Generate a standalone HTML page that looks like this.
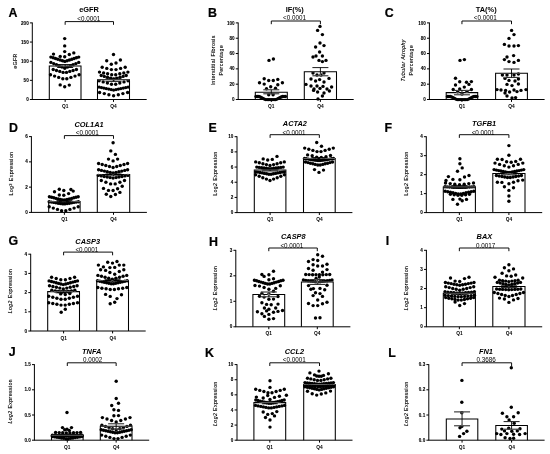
<!DOCTYPE html>
<html><head><meta charset="utf-8"><title>Figure</title>
<style>
html,body{margin:0;padding:0;background:#fff}
svg{display:block}
text{font-family:"Liberation Sans",sans-serif;fill:#000}
.pl{font-size:124px;font-weight:bold;stroke:#000;stroke-width:2px}
.ti{font-size:74px;font-weight:bold}
.it{font-style:italic}
.tk{font-size:46px;font-weight:bold;stroke:#000;stroke-width:0.8px}
.xl{font-size:48px;font-weight:bold}
.yl{font-size:52px;letter-spacing:4px;stroke:#000;stroke-width:1.2px}
.pv{font-size:63px}
.bar{fill:#fff;stroke:#000;stroke-width:1.05}
.axl{fill:none;stroke:#000;stroke-width:1}
.eb{fill:none;stroke:#000;stroke-width:0.9}
.lt{fill:none;stroke:#bbb;stroke-width:0.5}
.br{fill:none;stroke:#000;stroke-width:0.95}
</style></head><body>
<svg width="550" height="454" viewBox="0 0 550 454">
<rect width="550" height="454" fill="#fff"/>
<g id="panel-A">
<text transform="translate(8.60 16.60) scale(.1)" class="pl">A</text>
<text transform="translate(89.00 11.90) scale(.1)" class="ti" text-anchor="middle">eGFR</text>
<path d="M49.30 99.5V66.00H81.00V99.5" class="bar"/>
<path d="M97.50 99.5V79.80H129.50V99.5" class="bar"/>
<path d="M65.15 64.5V67.5M57.150000000000006 64.5H73.15M57.150000000000006 67.5H73.15" class="eb"/>
<path d="M113.5 78.2V81.4M105.5 78.2H121.5M105.5 81.4H121.5" class="eb"/>
<path d="M32.3 22.50V99.5M31.90 99.5H146.7" class="axl"/>
<path d="M29.90 99.50H32.3" class="axl"/>
<text transform="translate(28.70 101.10) scale(.1)" class="tk" text-anchor="end">0</text>
<path d="M29.90 80.35H32.3" class="axl"/>
<text transform="translate(28.70 81.95) scale(.1)" class="tk" text-anchor="end">50</text>
<path d="M29.90 61.20H32.3" class="axl"/>
<text transform="translate(28.70 62.80) scale(.1)" class="tk" text-anchor="end">100</text>
<path d="M29.90 42.05H32.3" class="axl"/>
<text transform="translate(28.70 43.65) scale(.1)" class="tk" text-anchor="end">150</text>
<path d="M29.90 22.90H32.3" class="axl"/>
<text transform="translate(28.70 24.50) scale(.1)" class="tk" text-anchor="end">200</text>
<path d="M65.15 99.5v2.4" class="axl"/>
<text transform="translate(65.15 108.10) scale(.1)" class="xl" text-anchor="middle">Q1</text>
<path d="M113.5 99.5v2.4" class="axl"/>
<text transform="translate(113.50 108.10) scale(.1)" class="xl" text-anchor="middle">Q4</text>
<text transform="translate(16.60 61.00) rotate(-90) scale(.1)" class="yl" text-anchor="middle">eGFR</text>
<path d="M65.15 24.80V21.6H113.5V24.80" class="br"/>
<text transform="translate(88.83 20.70) scale(.1)" class="pv" text-anchor="middle">&lt;0.0001</text>
<g id="dA"><circle cx="64.7" cy="38.6" r="1.7"/><circle cx="64.7" cy="45.9" r="1.7"/><circle cx="64.7" cy="51.6" r="1.7"/><circle cx="73.8" cy="52.9" r="1.7"/><circle cx="53.5" cy="54.1" r="1.7"/><circle cx="69.3" cy="54.5" r="1.7"/><circle cx="60.2" cy="56.4" r="1.7"/><circle cx="64.7" cy="56.8" r="1.7"/><circle cx="50.9" cy="57.1" r="1.7"/><circle cx="53.2" cy="57.8" r="1.7"/><circle cx="55.5" cy="58.5" r="1.7"/><circle cx="57.8" cy="59.2" r="1.7"/><circle cx="60.2" cy="60.0" r="1.7"/><circle cx="62.5" cy="60.7" r="1.7"/><circle cx="64.8" cy="61.4" r="1.7"/><circle cx="67.1" cy="60.7" r="1.7"/><circle cx="69.4" cy="60.0" r="1.7"/><circle cx="71.8" cy="59.2" r="1.7"/><circle cx="74.1" cy="58.5" r="1.7"/><circle cx="76.4" cy="57.8" r="1.7"/><circle cx="78.7" cy="57.1" r="1.7"/><circle cx="50.9" cy="62.4" r="1.7"/><circle cx="53.7" cy="63.6" r="1.7"/><circle cx="56.5" cy="64.8" r="1.7"/><circle cx="59.2" cy="65.9" r="1.7"/><circle cx="62.0" cy="67.1" r="1.7"/><circle cx="64.8" cy="68.3" r="1.7"/><circle cx="67.6" cy="67.1" r="1.7"/><circle cx="70.4" cy="65.9" r="1.7"/><circle cx="73.1" cy="64.8" r="1.7"/><circle cx="75.9" cy="63.6" r="1.7"/><circle cx="78.7" cy="62.4" r="1.7"/><circle cx="53.2" cy="69.5" r="1.7"/><circle cx="56.5" cy="70.5" r="1.7"/><circle cx="59.8" cy="71.4" r="1.7"/><circle cx="63.1" cy="72.4" r="1.7"/><circle cx="66.5" cy="72.4" r="1.7"/><circle cx="69.8" cy="71.4" r="1.7"/><circle cx="73.1" cy="70.5" r="1.7"/><circle cx="76.4" cy="69.5" r="1.7"/><circle cx="50.5" cy="74.8" r="1.7"/><circle cx="54.6" cy="76.1" r="1.7"/><circle cx="58.7" cy="77.4" r="1.7"/><circle cx="62.8" cy="78.7" r="1.7"/><circle cx="66.8" cy="78.7" r="1.7"/><circle cx="70.9" cy="77.4" r="1.7"/><circle cx="75.0" cy="76.1" r="1.7"/><circle cx="79.1" cy="74.8" r="1.7"/><circle cx="60.2" cy="84.9" r="1.7"/><circle cx="64.7" cy="86.7" r="1.7"/><circle cx="69.3" cy="85.1" r="1.7"/><circle cx="113.5" cy="54.5" r="1.7"/><circle cx="106.7" cy="60.7" r="1.7"/><circle cx="120.4" cy="60.0" r="1.7"/><circle cx="111.3" cy="64.2" r="1.7"/><circle cx="116.0" cy="63.0" r="1.7"/><circle cx="102.2" cy="67.2" r="1.7"/><circle cx="106.8" cy="68.4" r="1.7"/><circle cx="111.4" cy="69.6" r="1.7"/><circle cx="116.0" cy="69.6" r="1.7"/><circle cx="120.6" cy="68.4" r="1.7"/><circle cx="125.2" cy="67.2" r="1.7"/><circle cx="99.5" cy="72.1" r="1.7"/><circle cx="103.6" cy="73.0" r="1.7"/><circle cx="107.6" cy="73.8" r="1.7"/><circle cx="111.7" cy="74.7" r="1.7"/><circle cx="115.7" cy="74.7" r="1.7"/><circle cx="119.8" cy="73.8" r="1.7"/><circle cx="123.8" cy="73.0" r="1.7"/><circle cx="127.9" cy="72.1" r="1.7"/><circle cx="101.2" cy="75.5" r="1.7"/><circle cx="104.3" cy="76.4" r="1.7"/><circle cx="107.5" cy="77.2" r="1.7"/><circle cx="110.6" cy="78.1" r="1.7"/><circle cx="113.7" cy="79.0" r="1.7"/><circle cx="116.8" cy="78.1" r="1.7"/><circle cx="120.0" cy="77.2" r="1.7"/><circle cx="123.1" cy="76.4" r="1.7"/><circle cx="126.2" cy="75.5" r="1.7"/><circle cx="99.1" cy="80.7" r="1.7"/><circle cx="103.2" cy="81.9" r="1.7"/><circle cx="107.4" cy="83.1" r="1.7"/><circle cx="111.5" cy="84.3" r="1.7"/><circle cx="115.7" cy="84.3" r="1.7"/><circle cx="119.8" cy="83.1" r="1.7"/><circle cx="124.0" cy="81.9" r="1.7"/><circle cx="128.1" cy="80.7" r="1.7"/><circle cx="99.1" cy="87.1" r="1.7"/><circle cx="101.5" cy="87.6" r="1.7"/><circle cx="103.9" cy="88.1" r="1.7"/><circle cx="106.3" cy="88.6" r="1.7"/><circle cx="108.8" cy="89.1" r="1.7"/><circle cx="111.2" cy="89.6" r="1.7"/><circle cx="113.6" cy="90.1" r="1.7"/><circle cx="116.0" cy="89.6" r="1.7"/><circle cx="118.4" cy="89.1" r="1.7"/><circle cx="120.8" cy="88.6" r="1.7"/><circle cx="123.3" cy="88.1" r="1.7"/><circle cx="125.7" cy="87.6" r="1.7"/><circle cx="128.1" cy="87.1" r="1.7"/><circle cx="99.6" cy="92.5" r="1.7"/><circle cx="104.3" cy="93.6" r="1.7"/><circle cx="108.9" cy="94.7" r="1.7"/><circle cx="113.6" cy="95.8" r="1.7"/><circle cx="118.3" cy="94.7" r="1.7"/><circle cx="122.9" cy="93.6" r="1.7"/><circle cx="127.6" cy="92.5" r="1.7"/></g>
<mask id="mA" maskUnits="userSpaceOnUse" x="0" y="0" width="550" height="454"><use href="#dA" fill="#fff"/></mask>
<path d="M49.30 66.00H81.00M97.50 79.80H129.50" class="lt" mask="url(#mA)"/>
</g>
<g id="panel-B">
<text transform="translate(208.00 17.00) scale(.1)" class="pl">B</text>
<text transform="translate(294.70 12.30) scale(.1)" class="ti" text-anchor="middle">IF(%)</text>
<path d="M255.30 99.5V92.20H287.30V99.5" class="bar"/>
<path d="M304.30 99.5V71.70H336.50V99.5" class="bar"/>
<path d="M271.3 89.8V93.8M263.3 89.8H279.3M263.3 93.8H279.3" class="eb"/>
<path d="M320.4 67.6V75.8M312.4 67.6H328.4M312.4 75.8H328.4" class="eb"/>
<path d="M238.2 22.50V99.5M237.80 99.5H353.7" class="axl"/>
<path d="M235.80 99.50H238.2" class="axl"/>
<text transform="translate(234.60 101.10) scale(.1)" class="tk" text-anchor="end">0</text>
<path d="M235.80 84.18H238.2" class="axl"/>
<text transform="translate(234.60 85.78) scale(.1)" class="tk" text-anchor="end">20</text>
<path d="M235.80 68.86H238.2" class="axl"/>
<text transform="translate(234.60 70.46) scale(.1)" class="tk" text-anchor="end">40</text>
<path d="M235.80 53.54H238.2" class="axl"/>
<text transform="translate(234.60 55.14) scale(.1)" class="tk" text-anchor="end">60</text>
<path d="M235.80 38.22H238.2" class="axl"/>
<text transform="translate(234.60 39.82) scale(.1)" class="tk" text-anchor="end">80</text>
<path d="M235.80 22.90H238.2" class="axl"/>
<text transform="translate(234.60 24.50) scale(.1)" class="tk" text-anchor="end">100</text>
<path d="M271.3 99.5v2.4" class="axl"/>
<text transform="translate(271.30 108.10) scale(.1)" class="xl" text-anchor="middle">Q1</text>
<path d="M320.4 99.5v2.4" class="axl"/>
<text transform="translate(320.40 108.10) scale(.1)" class="xl" text-anchor="middle">Q4</text>
<text transform="translate(215.30 60.30) rotate(-90) scale(.1)" class="yl" text-anchor="middle">Interstitial Fibrosis</text>
<text transform="translate(222.80 60.30) rotate(-90) scale(.1)" class="yl" text-anchor="middle">Percentage</text>
<path d="M271.3 24.20V21H320.4V24.20" class="br"/>
<text transform="translate(294.45 20.30) scale(.1)" class="pv" text-anchor="middle">&lt;0.0001</text>
<g id="dB"><circle cx="269.0" cy="60.4" r="1.7"/><circle cx="273.4" cy="59.0" r="1.7"/><circle cx="264.2" cy="78.8" r="1.7"/><circle cx="268.7" cy="80.5" r="1.7"/><circle cx="273.3" cy="80.5" r="1.7"/><circle cx="277.8" cy="79.4" r="1.7"/><circle cx="259.5" cy="82.7" r="1.7"/><circle cx="264.2" cy="84.1" r="1.7"/><circle cx="282.4" cy="82.7" r="1.7"/><circle cx="277.8" cy="84.7" r="1.7"/><circle cx="270.7" cy="86.8" r="1.7"/><circle cx="266.5" cy="88.8" r="1.7"/><circle cx="275.5" cy="88.2" r="1.7"/><circle cx="268.7" cy="94.7" r="1.7"/><circle cx="273.1" cy="94.7" r="1.7"/><circle cx="256.0" cy="96.5" r="1.7"/><circle cx="257.4" cy="96.5" r="1.7"/><circle cx="258.8" cy="96.5" r="1.7"/><circle cx="260.2" cy="97.0" r="1.7"/><circle cx="261.6" cy="97.7" r="1.7"/><circle cx="263.0" cy="98.4" r="1.7"/><circle cx="264.4" cy="99.1" r="1.7"/><circle cx="265.8" cy="99.6" r="1.7"/><circle cx="267.2" cy="99.6" r="1.7"/><circle cx="268.6" cy="99.6" r="1.7"/><circle cx="270.0" cy="99.6" r="1.7"/><circle cx="271.4" cy="99.6" r="1.7"/><circle cx="272.8" cy="99.6" r="1.7"/><circle cx="274.2" cy="99.6" r="1.7"/><circle cx="275.6" cy="99.6" r="1.7"/><circle cx="277.0" cy="99.1" r="1.7"/><circle cx="278.4" cy="98.4" r="1.7"/><circle cx="279.8" cy="97.7" r="1.7"/><circle cx="281.2" cy="97.0" r="1.7"/><circle cx="282.6" cy="96.5" r="1.7"/><circle cx="284.0" cy="96.5" r="1.7"/><circle cx="285.4" cy="96.5" r="1.7"/><circle cx="320.0" cy="26.4" r="1.7"/><circle cx="317.6" cy="30.4" r="1.7"/><circle cx="322.4" cy="34.6" r="1.7"/><circle cx="320.0" cy="43.0" r="1.7"/><circle cx="324.0" cy="45.6" r="1.7"/><circle cx="315.6" cy="47.0" r="1.7"/><circle cx="319.6" cy="52.0" r="1.7"/><circle cx="313.0" cy="57.0" r="1.7"/><circle cx="316.0" cy="56.0" r="1.7"/><circle cx="322.4" cy="56.0" r="1.7"/><circle cx="319.0" cy="60.4" r="1.7"/><circle cx="326.0" cy="60.4" r="1.7"/><circle cx="322.4" cy="61.6" r="1.7"/><circle cx="313.0" cy="73.0" r="1.7"/><circle cx="324.0" cy="73.0" r="1.7"/><circle cx="317.0" cy="75.0" r="1.7"/><circle cx="321.0" cy="75.0" r="1.7"/><circle cx="311.0" cy="79.0" r="1.7"/><circle cx="319.6" cy="79.6" r="1.7"/><circle cx="329.0" cy="78.4" r="1.7"/><circle cx="315.6" cy="81.0" r="1.7"/><circle cx="324.0" cy="82.0" r="1.7"/><circle cx="306.0" cy="84.4" r="1.7"/><circle cx="311.0" cy="86.0" r="1.7"/><circle cx="317.0" cy="86.0" r="1.7"/><circle cx="323.0" cy="86.4" r="1.7"/><circle cx="331.6" cy="87.0" r="1.7"/><circle cx="314.0" cy="89.0" r="1.7"/><circle cx="320.0" cy="88.4" r="1.7"/><circle cx="327.0" cy="89.0" r="1.7"/><circle cx="317.6" cy="92.0" r="1.7"/><circle cx="324.0" cy="93.0" r="1.7"/><circle cx="329.4" cy="91.0" r="1.7"/><circle cx="313.6" cy="90.4" r="1.7"/><circle cx="322.4" cy="96.0" r="1.7"/><circle cx="318.0" cy="99.0" r="1.7"/></g>
<mask id="mB" maskUnits="userSpaceOnUse" x="0" y="0" width="550" height="454"><use href="#dB" fill="#fff"/></mask>
<path d="M255.30 92.20H287.30M304.30 71.70H336.50M271.3 89.8V93.8M263.3 89.8H279.3M263.3 93.8H279.3M320.4 67.6V75.8M312.4 67.6H328.4M312.4 75.8H328.4" class="lt" mask="url(#mB)"/>
</g>
<g id="panel-C">
<text transform="translate(384.80 17.10) scale(.1)" class="pl">C</text>
<text transform="translate(486.20 12.30) scale(.1)" class="ti" text-anchor="middle">TA(%)</text>
<path d="M446.20 99.5V92.60H477.70V99.5" class="bar"/>
<path d="M495.60 99.5V73.20H527.40V99.5" class="bar"/>
<path d="M461.95 90.4V94.8M453.95 90.4H469.95M453.95 94.8H469.95" class="eb"/>
<path d="M511.5 69V77.4M503.5 69H519.5M503.5 77.4H519.5" class="eb"/>
<path d="M429.4 22.50V99.5M429.00 99.5H544.6" class="axl"/>
<path d="M427.00 99.50H429.4" class="axl"/>
<text transform="translate(425.80 101.10) scale(.1)" class="tk" text-anchor="end">0</text>
<path d="M427.00 84.18H429.4" class="axl"/>
<text transform="translate(425.80 85.78) scale(.1)" class="tk" text-anchor="end">20</text>
<path d="M427.00 68.86H429.4" class="axl"/>
<text transform="translate(425.80 70.46) scale(.1)" class="tk" text-anchor="end">40</text>
<path d="M427.00 53.54H429.4" class="axl"/>
<text transform="translate(425.80 55.14) scale(.1)" class="tk" text-anchor="end">60</text>
<path d="M427.00 38.22H429.4" class="axl"/>
<text transform="translate(425.80 39.82) scale(.1)" class="tk" text-anchor="end">80</text>
<path d="M427.00 22.90H429.4" class="axl"/>
<text transform="translate(425.80 24.50) scale(.1)" class="tk" text-anchor="end">100</text>
<path d="M461.95 99.5v2.4" class="axl"/>
<text transform="translate(461.95 108.10) scale(.1)" class="xl" text-anchor="middle">Q1</text>
<path d="M511.5 99.5v2.4" class="axl"/>
<text transform="translate(511.50 108.10) scale(.1)" class="xl" text-anchor="middle">Q4</text>
<text transform="translate(405.30 60.30) rotate(-90) scale(.1)" class="yl it" text-anchor="middle">Tubular Atrophy</text>
<text transform="translate(412.80 60.30) rotate(-90) scale(.1)" class="yl" text-anchor="middle">Percentage</text>
<path d="M461.95 24.20V21H511.5V24.20" class="br"/>
<text transform="translate(485.23 20.30) scale(.1)" class="pv" text-anchor="middle">&lt;0.0001</text>
<g id="dC"><circle cx="460.0" cy="60.4" r="1.7"/><circle cx="464.4" cy="59.6" r="1.7"/><circle cx="455.5" cy="78.2" r="1.7"/><circle cx="459.7" cy="81.8" r="1.7"/><circle cx="466.5" cy="82.3" r="1.7"/><circle cx="471.4" cy="81.6" r="1.7"/><circle cx="469.0" cy="84.4" r="1.7"/><circle cx="455.5" cy="85.0" r="1.7"/><circle cx="464.3" cy="87.1" r="1.7"/><circle cx="459.7" cy="88.9" r="1.7"/><circle cx="453.2" cy="89.5" r="1.7"/><circle cx="471.4" cy="89.5" r="1.7"/><circle cx="467.0" cy="91.4" r="1.7"/><circle cx="457.7" cy="91.8" r="1.7"/><circle cx="462.0" cy="94.1" r="1.7"/><circle cx="447.5" cy="96.5" r="1.7"/><circle cx="448.9" cy="96.5" r="1.7"/><circle cx="450.3" cy="96.5" r="1.7"/><circle cx="451.7" cy="97.0" r="1.7"/><circle cx="453.1" cy="97.7" r="1.7"/><circle cx="454.5" cy="98.4" r="1.7"/><circle cx="455.9" cy="99.1" r="1.7"/><circle cx="457.3" cy="99.6" r="1.7"/><circle cx="458.7" cy="99.6" r="1.7"/><circle cx="460.1" cy="99.6" r="1.7"/><circle cx="461.5" cy="99.6" r="1.7"/><circle cx="462.9" cy="99.6" r="1.7"/><circle cx="464.3" cy="99.6" r="1.7"/><circle cx="465.7" cy="99.6" r="1.7"/><circle cx="467.1" cy="99.6" r="1.7"/><circle cx="468.5" cy="99.1" r="1.7"/><circle cx="469.9" cy="98.4" r="1.7"/><circle cx="471.3" cy="97.7" r="1.7"/><circle cx="472.7" cy="97.0" r="1.7"/><circle cx="474.1" cy="96.5" r="1.7"/><circle cx="475.5" cy="96.5" r="1.7"/><circle cx="476.9" cy="96.5" r="1.7"/><circle cx="511.6" cy="30.4" r="1.7"/><circle cx="514.0" cy="34.6" r="1.7"/><circle cx="509.0" cy="38.4" r="1.7"/><circle cx="504.4" cy="44.4" r="1.7"/><circle cx="509.0" cy="46.0" r="1.7"/><circle cx="514.0" cy="46.0" r="1.7"/><circle cx="518.4" cy="45.6" r="1.7"/><circle cx="507.0" cy="57.0" r="1.7"/><circle cx="513.6" cy="55.6" r="1.7"/><circle cx="504.4" cy="59.6" r="1.7"/><circle cx="509.0" cy="61.6" r="1.7"/><circle cx="514.0" cy="62.4" r="1.7"/><circle cx="518.4" cy="60.4" r="1.7"/><circle cx="502.4" cy="75.0" r="1.7"/><circle cx="507.0" cy="75.0" r="1.7"/><circle cx="514.0" cy="75.0" r="1.7"/><circle cx="518.4" cy="74.0" r="1.7"/><circle cx="505.0" cy="78.4" r="1.7"/><circle cx="518.4" cy="79.0" r="1.7"/><circle cx="509.0" cy="80.4" r="1.7"/><circle cx="515.0" cy="81.0" r="1.7"/><circle cx="507.0" cy="84.4" r="1.7"/><circle cx="512.0" cy="85.6" r="1.7"/><circle cx="518.4" cy="84.0" r="1.7"/><circle cx="497.0" cy="89.6" r="1.7"/><circle cx="501.0" cy="90.0" r="1.7"/><circle cx="505.6" cy="90.4" r="1.7"/><circle cx="514.0" cy="90.0" r="1.7"/><circle cx="521.0" cy="90.4" r="1.7"/><circle cx="526.0" cy="89.6" r="1.7"/><circle cx="509.6" cy="92.0" r="1.7"/><circle cx="517.0" cy="91.6" r="1.7"/><circle cx="507.0" cy="96.0" r="1.7"/><circle cx="512.0" cy="98.0" r="1.7"/><circle cx="515.6" cy="97.6" r="1.7"/><circle cx="505.0" cy="93.0" r="1.7"/></g>
<mask id="mC" maskUnits="userSpaceOnUse" x="0" y="0" width="550" height="454"><use href="#dC" fill="#fff"/></mask>
<path d="M446.20 92.60H477.70M495.60 73.20H527.40M461.95 90.4V94.8M453.95 90.4H469.95M453.95 94.8H469.95M511.5 69V77.4M503.5 69H519.5M503.5 77.4H519.5" class="lt" mask="url(#mC)"/>
</g>
<g id="panel-D">
<text transform="translate(9.00 132.10) scale(.1)" class="pl">D</text>
<text transform="translate(89.00 126.50) scale(.1)" class="ti it" text-anchor="middle">COL1A1</text>
<path d="M48.70 212.4V201.60H80.10V212.4" class="bar"/>
<path d="M97.30 212.4V174.40H129.70V212.4" class="bar"/>
<path d="M64.4 200.6V202.6M56.400000000000006 200.6H72.4M56.400000000000006 202.6H72.4" class="eb"/>
<path d="M113.5 173V175.8M105.5 173H121.5M105.5 175.8H121.5" class="eb"/>
<path d="M31.4 136.20V212.4M31.00 212.4H146.9" class="axl"/>
<path d="M29.00 212.40H31.4" class="axl"/>
<text transform="translate(27.80 214.00) scale(.1)" class="tk" text-anchor="end">0</text>
<path d="M29.00 187.13H31.4" class="axl"/>
<text transform="translate(27.80 188.73) scale(.1)" class="tk" text-anchor="end">2</text>
<path d="M29.00 161.87H31.4" class="axl"/>
<text transform="translate(27.80 163.47) scale(.1)" class="tk" text-anchor="end">4</text>
<path d="M29.00 136.60H31.4" class="axl"/>
<text transform="translate(27.80 138.20) scale(.1)" class="tk" text-anchor="end">6</text>
<path d="M64.4 212.4v2.4" class="axl"/>
<text transform="translate(64.40 221.00) scale(.1)" class="xl" text-anchor="middle">Q1</text>
<path d="M113.5 212.4v2.4" class="axl"/>
<text transform="translate(113.50 221.00) scale(.1)" class="xl" text-anchor="middle">Q4</text>
<text transform="translate(13.10 173.50) rotate(-90) scale(.1)" class="yl" text-anchor="middle">Log<tspan dy="-16" font-size="40">2</tspan><tspan dy="16"> Expression</tspan></text>
<path d="M64.4 138.80V135.6H113.5V138.80" class="br"/>
<text transform="translate(87.25 135.30) scale(.1)" class="pv" text-anchor="middle">&lt;0.0001</text>
<g id="dD"><circle cx="59.3" cy="189.3" r="1.7"/><circle cx="63.8" cy="190.5" r="1.7"/><circle cx="70.9" cy="189.5" r="1.7"/><circle cx="73.2" cy="191.1" r="1.7"/><circle cx="54.5" cy="191.8" r="1.7"/><circle cx="59.3" cy="195.0" r="1.7"/><circle cx="63.8" cy="195.3" r="1.7"/><circle cx="68.6" cy="193.6" r="1.7"/><circle cx="49.4" cy="196.8" r="1.7"/><circle cx="51.6" cy="197.3" r="1.7"/><circle cx="53.8" cy="197.8" r="1.7"/><circle cx="56.0" cy="198.4" r="1.7"/><circle cx="58.3" cy="198.9" r="1.7"/><circle cx="60.5" cy="199.4" r="1.7"/><circle cx="62.7" cy="199.9" r="1.7"/><circle cx="64.9" cy="199.9" r="1.7"/><circle cx="67.1" cy="199.4" r="1.7"/><circle cx="69.3" cy="198.9" r="1.7"/><circle cx="71.6" cy="198.4" r="1.7"/><circle cx="73.8" cy="197.8" r="1.7"/><circle cx="76.0" cy="197.3" r="1.7"/><circle cx="78.2" cy="196.8" r="1.7"/><circle cx="49.2" cy="201.7" r="1.7"/><circle cx="51.4" cy="202.1" r="1.7"/><circle cx="53.7" cy="202.4" r="1.7"/><circle cx="55.9" cy="202.8" r="1.7"/><circle cx="58.2" cy="203.2" r="1.7"/><circle cx="60.4" cy="203.5" r="1.7"/><circle cx="62.7" cy="203.9" r="1.7"/><circle cx="64.9" cy="203.9" r="1.7"/><circle cx="67.2" cy="203.5" r="1.7"/><circle cx="69.4" cy="203.2" r="1.7"/><circle cx="71.7" cy="202.8" r="1.7"/><circle cx="73.9" cy="202.4" r="1.7"/><circle cx="76.2" cy="202.1" r="1.7"/><circle cx="78.4" cy="201.7" r="1.7"/><circle cx="49.2" cy="206.8" r="1.7"/><circle cx="53.3" cy="208.1" r="1.7"/><circle cx="57.5" cy="209.4" r="1.7"/><circle cx="61.6" cy="210.7" r="1.7"/><circle cx="65.8" cy="210.7" r="1.7"/><circle cx="69.9" cy="209.4" r="1.7"/><circle cx="74.1" cy="208.1" r="1.7"/><circle cx="78.2" cy="206.8" r="1.7"/><circle cx="113.1" cy="142.7" r="1.7"/><circle cx="110.8" cy="150.9" r="1.7"/><circle cx="115.4" cy="154.4" r="1.7"/><circle cx="108.5" cy="159.1" r="1.7"/><circle cx="113.1" cy="160.9" r="1.7"/><circle cx="117.6" cy="159.1" r="1.7"/><circle cx="98.6" cy="163.5" r="1.7"/><circle cx="102.2" cy="164.5" r="1.7"/><circle cx="105.8" cy="165.5" r="1.7"/><circle cx="109.5" cy="166.5" r="1.7"/><circle cx="113.1" cy="167.5" r="1.7"/><circle cx="116.7" cy="166.5" r="1.7"/><circle cx="120.3" cy="165.5" r="1.7"/><circle cx="124.0" cy="164.5" r="1.7"/><circle cx="127.6" cy="163.5" r="1.7"/><circle cx="98.6" cy="169.8" r="1.7"/><circle cx="101.5" cy="170.4" r="1.7"/><circle cx="104.4" cy="171.1" r="1.7"/><circle cx="107.3" cy="171.7" r="1.7"/><circle cx="110.2" cy="172.4" r="1.7"/><circle cx="113.1" cy="173.0" r="1.7"/><circle cx="116.0" cy="172.4" r="1.7"/><circle cx="118.9" cy="171.7" r="1.7"/><circle cx="121.8" cy="171.1" r="1.7"/><circle cx="124.7" cy="170.4" r="1.7"/><circle cx="127.6" cy="169.8" r="1.7"/><circle cx="98.3" cy="175.4" r="1.7"/><circle cx="101.3" cy="175.9" r="1.7"/><circle cx="104.2" cy="176.5" r="1.7"/><circle cx="107.2" cy="177.0" r="1.7"/><circle cx="110.1" cy="177.6" r="1.7"/><circle cx="113.1" cy="178.1" r="1.7"/><circle cx="116.1" cy="177.6" r="1.7"/><circle cx="119.0" cy="177.0" r="1.7"/><circle cx="122.0" cy="176.5" r="1.7"/><circle cx="124.9" cy="175.9" r="1.7"/><circle cx="127.9" cy="175.4" r="1.7"/><circle cx="101.3" cy="180.5" r="1.7"/><circle cx="105.9" cy="182.2" r="1.7"/><circle cx="110.6" cy="183.9" r="1.7"/><circle cx="115.2" cy="183.9" r="1.7"/><circle cx="119.9" cy="182.2" r="1.7"/><circle cx="124.5" cy="180.5" r="1.7"/><circle cx="103.5" cy="188.4" r="1.7"/><circle cx="108.5" cy="190.4" r="1.7"/><circle cx="113.1" cy="190.5" r="1.7"/><circle cx="117.6" cy="188.7" r="1.7"/><circle cx="122.2" cy="186.3" r="1.7"/><circle cx="106.3" cy="194.2" r="1.7"/><circle cx="110.8" cy="196.5" r="1.7"/><circle cx="115.4" cy="194.5" r="1.7"/><circle cx="119.9" cy="192.4" r="1.7"/></g>
<mask id="mD" maskUnits="userSpaceOnUse" x="0" y="0" width="550" height="454"><use href="#dD" fill="#fff"/></mask>
<path d="M48.70 201.60H80.10M97.30 174.40H129.70" class="lt" mask="url(#mD)"/>
</g>
<g id="panel-E">
<text transform="translate(208.60 132.10) scale(.1)" class="pl">E</text>
<text transform="translate(294.90 125.60) scale(.1)" class="ti it" text-anchor="middle">ACTA2</text>
<path d="M254.30 212.6V170.00H285.90V212.6" class="bar"/>
<path d="M303.50 212.6V158.50H335.20V212.6" class="bar"/>
<path d="M270.1 169V171M262.1 169H278.1M262.1 171H278.1" class="eb"/>
<path d="M319.35 157.5V159.5M311.35 157.5H327.35M311.35 159.5H327.35" class="eb"/>
<path d="M237 136.30V212.6M236.60 212.6H352.4" class="axl"/>
<path d="M234.60 212.60H237" class="axl"/>
<text transform="translate(233.40 214.20) scale(.1)" class="tk" text-anchor="end">0</text>
<path d="M234.60 197.42H237" class="axl"/>
<text transform="translate(233.40 199.02) scale(.1)" class="tk" text-anchor="end">2</text>
<path d="M234.60 182.24H237" class="axl"/>
<text transform="translate(233.40 183.84) scale(.1)" class="tk" text-anchor="end">4</text>
<path d="M234.60 167.06H237" class="axl"/>
<text transform="translate(233.40 168.66) scale(.1)" class="tk" text-anchor="end">6</text>
<path d="M234.60 151.88H237" class="axl"/>
<text transform="translate(233.40 153.48) scale(.1)" class="tk" text-anchor="end">8</text>
<path d="M234.60 136.70H237" class="axl"/>
<text transform="translate(233.40 138.30) scale(.1)" class="tk" text-anchor="end">10</text>
<path d="M270.1 212.6v2.4" class="axl"/>
<text transform="translate(270.10 221.20) scale(.1)" class="xl" text-anchor="middle">Q1</text>
<path d="M319.35 212.6v2.4" class="axl"/>
<text transform="translate(319.35 221.20) scale(.1)" class="xl" text-anchor="middle">Q4</text>
<text transform="translate(216.60 173.50) rotate(-90) scale(.1)" class="yl" text-anchor="middle">Log<tspan font-style="italic">2</tspan> Expression</text>
<path d="M270.1 137.90V134.7H319.35V137.90" class="br"/>
<text transform="translate(293.93 134.70) scale(.1)" class="pv" text-anchor="middle">&lt;0.0001</text>
<g id="dE"><circle cx="277.0" cy="156.4" r="1.7"/><circle cx="263.2" cy="158.9" r="1.7"/><circle cx="267.7" cy="160.0" r="1.7"/><circle cx="272.3" cy="159.4" r="1.7"/><circle cx="255.7" cy="161.9" r="1.7"/><circle cx="259.3" cy="162.8" r="1.7"/><circle cx="262.9" cy="163.7" r="1.7"/><circle cx="266.4" cy="164.6" r="1.7"/><circle cx="270.0" cy="165.5" r="1.7"/><circle cx="273.6" cy="164.6" r="1.7"/><circle cx="277.1" cy="163.7" r="1.7"/><circle cx="280.7" cy="162.8" r="1.7"/><circle cx="284.3" cy="161.9" r="1.7"/><circle cx="256.8" cy="167.1" r="1.7"/><circle cx="259.2" cy="167.4" r="1.7"/><circle cx="261.6" cy="167.7" r="1.7"/><circle cx="264.0" cy="168.0" r="1.7"/><circle cx="266.4" cy="168.3" r="1.7"/><circle cx="268.8" cy="168.6" r="1.7"/><circle cx="271.2" cy="168.6" r="1.7"/><circle cx="273.6" cy="168.3" r="1.7"/><circle cx="276.0" cy="168.0" r="1.7"/><circle cx="278.4" cy="167.7" r="1.7"/><circle cx="280.8" cy="167.4" r="1.7"/><circle cx="283.2" cy="167.1" r="1.7"/><circle cx="255.7" cy="171.7" r="1.7"/><circle cx="257.9" cy="172.1" r="1.7"/><circle cx="260.1" cy="172.5" r="1.7"/><circle cx="262.3" cy="172.9" r="1.7"/><circle cx="264.5" cy="173.4" r="1.7"/><circle cx="266.7" cy="173.8" r="1.7"/><circle cx="268.9" cy="174.2" r="1.7"/><circle cx="271.1" cy="174.2" r="1.7"/><circle cx="273.3" cy="173.8" r="1.7"/><circle cx="275.5" cy="173.4" r="1.7"/><circle cx="277.7" cy="172.9" r="1.7"/><circle cx="279.9" cy="172.5" r="1.7"/><circle cx="282.1" cy="172.1" r="1.7"/><circle cx="284.3" cy="171.7" r="1.7"/><circle cx="255.6" cy="174.8" r="1.7"/><circle cx="259.2" cy="176.2" r="1.7"/><circle cx="262.8" cy="177.7" r="1.7"/><circle cx="266.4" cy="179.1" r="1.7"/><circle cx="270.0" cy="180.5" r="1.7"/><circle cx="273.6" cy="179.1" r="1.7"/><circle cx="277.2" cy="177.7" r="1.7"/><circle cx="280.8" cy="176.2" r="1.7"/><circle cx="284.4" cy="174.8" r="1.7"/><circle cx="316.7" cy="142.5" r="1.7"/><circle cx="321.5" cy="146.2" r="1.7"/><circle cx="304.7" cy="148.1" r="1.7"/><circle cx="308.8" cy="149.3" r="1.7"/><circle cx="312.9" cy="150.4" r="1.7"/><circle cx="317.0" cy="151.6" r="1.7"/><circle cx="321.0" cy="151.6" r="1.7"/><circle cx="325.1" cy="150.4" r="1.7"/><circle cx="329.2" cy="149.3" r="1.7"/><circle cx="333.3" cy="148.1" r="1.7"/><circle cx="307.6" cy="154.9" r="1.7"/><circle cx="312.2" cy="155.8" r="1.7"/><circle cx="316.7" cy="157.1" r="1.7"/><circle cx="321.3" cy="157.4" r="1.7"/><circle cx="326.0" cy="156.7" r="1.7"/><circle cx="330.5" cy="155.5" r="1.7"/><circle cx="304.5" cy="158.5" r="1.7"/><circle cx="306.4" cy="158.8" r="1.7"/><circle cx="308.4" cy="159.1" r="1.7"/><circle cx="310.3" cy="159.4" r="1.7"/><circle cx="312.2" cy="159.7" r="1.7"/><circle cx="314.2" cy="160.0" r="1.7"/><circle cx="316.1" cy="160.3" r="1.7"/><circle cx="318.0" cy="160.6" r="1.7"/><circle cx="320.0" cy="160.6" r="1.7"/><circle cx="321.9" cy="160.3" r="1.7"/><circle cx="323.8" cy="160.0" r="1.7"/><circle cx="325.8" cy="159.7" r="1.7"/><circle cx="327.7" cy="159.4" r="1.7"/><circle cx="329.6" cy="159.1" r="1.7"/><circle cx="331.6" cy="158.8" r="1.7"/><circle cx="333.5" cy="158.5" r="1.7"/><circle cx="305.5" cy="162.0" r="1.7"/><circle cx="308.0" cy="162.6" r="1.7"/><circle cx="310.4" cy="163.2" r="1.7"/><circle cx="312.9" cy="163.8" r="1.7"/><circle cx="315.3" cy="164.4" r="1.7"/><circle cx="317.8" cy="165.0" r="1.7"/><circle cx="320.2" cy="165.0" r="1.7"/><circle cx="322.7" cy="164.4" r="1.7"/><circle cx="325.1" cy="163.8" r="1.7"/><circle cx="327.6" cy="163.2" r="1.7"/><circle cx="330.0" cy="162.6" r="1.7"/><circle cx="332.5" cy="162.0" r="1.7"/><circle cx="314.5" cy="169.6" r="1.7"/><circle cx="319.0" cy="172.4" r="1.7"/><circle cx="323.5" cy="170.1" r="1.7"/></g>
<mask id="mE" maskUnits="userSpaceOnUse" x="0" y="0" width="550" height="454"><use href="#dE" fill="#fff"/></mask>
<path d="M254.30 170.00H285.90M303.50 158.50H335.20" class="lt" mask="url(#mE)"/>
</g>
<g id="panel-F">
<text transform="translate(384.50 132.40) scale(.1)" class="pl">F</text>
<text transform="translate(484.10 125.60) scale(.1)" class="ti it" text-anchor="middle">TGFB1</text>
<path d="M443.30 212.6V186.90H475.40V212.6" class="bar"/>
<path d="M492.80 212.6V173.50H525.00V212.6" class="bar"/>
<path d="M459.35 185.6V188.2M451.35 185.6H467.35M451.35 188.2H467.35" class="eb"/>
<path d="M508.9 172.2V174.8M500.9 172.2H516.9M500.9 174.8H516.9" class="eb"/>
<path d="M426.3 136.30V212.6M425.90 212.6H542.2" class="axl"/>
<path d="M423.90 212.60H426.3" class="axl"/>
<text transform="translate(422.70 214.20) scale(.1)" class="tk" text-anchor="end">0</text>
<path d="M423.90 193.62H426.3" class="axl"/>
<text transform="translate(422.70 195.22) scale(.1)" class="tk" text-anchor="end">1</text>
<path d="M423.90 174.65H426.3" class="axl"/>
<text transform="translate(422.70 176.25) scale(.1)" class="tk" text-anchor="end">2</text>
<path d="M423.90 155.67H426.3" class="axl"/>
<text transform="translate(422.70 157.27) scale(.1)" class="tk" text-anchor="end">3</text>
<path d="M423.90 136.70H426.3" class="axl"/>
<text transform="translate(422.70 138.30) scale(.1)" class="tk" text-anchor="end">4</text>
<path d="M459.35 212.6v2.4" class="axl"/>
<text transform="translate(459.35 221.20) scale(.1)" class="xl" text-anchor="middle">Q1</text>
<path d="M508.9 212.6v2.4" class="axl"/>
<text transform="translate(508.90 221.20) scale(.1)" class="xl" text-anchor="middle">Q4</text>
<text transform="translate(407.80 173.50) rotate(-90) scale(.1)" class="yl" text-anchor="middle">Log<tspan font-style="italic">2</tspan> Expression</text>
<path d="M459.35 137.90V134.7H508.9V137.90" class="br"/>
<text transform="translate(483.12 134.80) scale(.1)" class="pv" text-anchor="middle">&lt;0.0001</text>
<g id="dF"><circle cx="459.9" cy="158.8" r="1.7"/><circle cx="459.9" cy="163.8" r="1.7"/><circle cx="462.2" cy="167.9" r="1.7"/><circle cx="457.5" cy="171.2" r="1.7"/><circle cx="469.0" cy="175.5" r="1.7"/><circle cx="464.5" cy="177.0" r="1.7"/><circle cx="448.4" cy="176.6" r="1.7"/><circle cx="446.0" cy="180.5" r="1.7"/><circle cx="452.9" cy="179.4" r="1.7"/><circle cx="459.9" cy="179.7" r="1.7"/><circle cx="445.5" cy="183.0" r="1.7"/><circle cx="450.2" cy="183.6" r="1.7"/><circle cx="454.8" cy="184.2" r="1.7"/><circle cx="459.5" cy="184.8" r="1.7"/><circle cx="464.2" cy="184.2" r="1.7"/><circle cx="468.8" cy="183.6" r="1.7"/><circle cx="473.5" cy="183.0" r="1.7"/><circle cx="445.0" cy="186.8" r="1.7"/><circle cx="447.2" cy="186.9" r="1.7"/><circle cx="449.5" cy="187.0" r="1.7"/><circle cx="451.7" cy="187.1" r="1.7"/><circle cx="453.9" cy="187.2" r="1.7"/><circle cx="456.2" cy="187.3" r="1.7"/><circle cx="458.4" cy="187.4" r="1.7"/><circle cx="460.6" cy="187.4" r="1.7"/><circle cx="462.8" cy="187.3" r="1.7"/><circle cx="465.1" cy="187.2" r="1.7"/><circle cx="467.3" cy="187.1" r="1.7"/><circle cx="469.5" cy="187.0" r="1.7"/><circle cx="471.8" cy="186.9" r="1.7"/><circle cx="474.0" cy="186.8" r="1.7"/><circle cx="445.2" cy="191.2" r="1.7"/><circle cx="447.8" cy="191.7" r="1.7"/><circle cx="450.4" cy="192.3" r="1.7"/><circle cx="453.0" cy="192.8" r="1.7"/><circle cx="455.6" cy="193.4" r="1.7"/><circle cx="458.2" cy="193.9" r="1.7"/><circle cx="460.8" cy="193.9" r="1.7"/><circle cx="463.4" cy="193.4" r="1.7"/><circle cx="466.0" cy="192.8" r="1.7"/><circle cx="468.6" cy="192.3" r="1.7"/><circle cx="471.2" cy="191.7" r="1.7"/><circle cx="473.8" cy="191.2" r="1.7"/><circle cx="450.4" cy="194.2" r="1.7"/><circle cx="454.2" cy="194.8" r="1.7"/><circle cx="458.0" cy="195.3" r="1.7"/><circle cx="461.8" cy="195.3" r="1.7"/><circle cx="465.6" cy="194.8" r="1.7"/><circle cx="469.4" cy="194.2" r="1.7"/><circle cx="452.9" cy="199.4" r="1.7"/><circle cx="459.9" cy="199.1" r="1.7"/><circle cx="462.2" cy="200.7" r="1.7"/><circle cx="466.5" cy="199.4" r="1.7"/><circle cx="457.5" cy="204.2" r="1.7"/><circle cx="508.9" cy="145.6" r="1.7"/><circle cx="508.9" cy="155.3" r="1.7"/><circle cx="497.4" cy="159.3" r="1.7"/><circle cx="502.1" cy="159.5" r="1.7"/><circle cx="520.5" cy="159.3" r="1.7"/><circle cx="506.6" cy="161.8" r="1.7"/><circle cx="511.2" cy="162.3" r="1.7"/><circle cx="515.7" cy="161.4" r="1.7"/><circle cx="495.0" cy="163.1" r="1.7"/><circle cx="499.6" cy="164.4" r="1.7"/><circle cx="504.3" cy="165.8" r="1.7"/><circle cx="508.9" cy="167.1" r="1.7"/><circle cx="513.5" cy="165.8" r="1.7"/><circle cx="518.2" cy="164.4" r="1.7"/><circle cx="522.8" cy="163.1" r="1.7"/><circle cx="494.1" cy="169.6" r="1.7"/><circle cx="496.4" cy="170.1" r="1.7"/><circle cx="498.7" cy="170.6" r="1.7"/><circle cx="500.9" cy="171.0" r="1.7"/><circle cx="503.2" cy="171.5" r="1.7"/><circle cx="505.5" cy="172.0" r="1.7"/><circle cx="507.8" cy="172.5" r="1.7"/><circle cx="510.0" cy="172.5" r="1.7"/><circle cx="512.3" cy="172.0" r="1.7"/><circle cx="514.6" cy="171.5" r="1.7"/><circle cx="516.9" cy="171.0" r="1.7"/><circle cx="519.1" cy="170.6" r="1.7"/><circle cx="521.4" cy="170.1" r="1.7"/><circle cx="523.7" cy="169.6" r="1.7"/><circle cx="496.4" cy="175.5" r="1.7"/><circle cx="499.2" cy="176.0" r="1.7"/><circle cx="502.0" cy="176.5" r="1.7"/><circle cx="504.7" cy="177.0" r="1.7"/><circle cx="507.5" cy="177.5" r="1.7"/><circle cx="510.3" cy="177.5" r="1.7"/><circle cx="513.1" cy="177.0" r="1.7"/><circle cx="515.8" cy="176.5" r="1.7"/><circle cx="518.6" cy="176.0" r="1.7"/><circle cx="521.4" cy="175.5" r="1.7"/><circle cx="497.4" cy="182.2" r="1.7"/><circle cx="501.9" cy="182.4" r="1.7"/><circle cx="508.9" cy="183.7" r="1.7"/><circle cx="513.5" cy="182.2" r="1.7"/><circle cx="518.0" cy="180.7" r="1.7"/><circle cx="522.7" cy="180.1" r="1.7"/><circle cx="504.4" cy="186.7" r="1.7"/><circle cx="513.5" cy="187.8" r="1.7"/><circle cx="508.9" cy="190.4" r="1.7"/><circle cx="508.9" cy="196.0" r="1.7"/><circle cx="508.9" cy="201.3" r="1.7"/></g>
<mask id="mF" maskUnits="userSpaceOnUse" x="0" y="0" width="550" height="454"><use href="#dF" fill="#fff"/></mask>
<path d="M443.30 186.90H475.40M492.80 173.50H525.00" class="lt" mask="url(#mF)"/>
</g>
<g id="panel-G">
<text transform="translate(8.60 245.40) scale(.1)" class="pl">G</text>
<text transform="translate(87.70 244.00) scale(.1)" class="ti it" text-anchor="middle">CASP3</text>
<path d="M47.70 331V291.60H79.50V331" class="bar"/>
<path d="M96.70 331V280.50H128.50V331" class="bar"/>
<path d="M63.6 290.4V292.8M55.6 290.4H71.6M55.6 292.8H71.6" class="eb"/>
<path d="M112.6 279.3V281.7M104.6 279.3H120.6M104.6 281.7H120.6" class="eb"/>
<path d="M30.7 253.80V331M30.30 331H145.7" class="axl"/>
<path d="M28.30 331.00H30.7" class="axl"/>
<text transform="translate(27.10 332.60) scale(.1)" class="tk" text-anchor="end">0</text>
<path d="M28.30 311.80H30.7" class="axl"/>
<text transform="translate(27.10 313.40) scale(.1)" class="tk" text-anchor="end">1</text>
<path d="M28.30 292.60H30.7" class="axl"/>
<text transform="translate(27.10 294.20) scale(.1)" class="tk" text-anchor="end">2</text>
<path d="M28.30 273.40H30.7" class="axl"/>
<text transform="translate(27.10 275.00) scale(.1)" class="tk" text-anchor="end">3</text>
<path d="M28.30 254.20H30.7" class="axl"/>
<text transform="translate(27.10 255.80) scale(.1)" class="tk" text-anchor="end">4</text>
<path d="M63.6 331v2.4" class="axl"/>
<text transform="translate(63.60 339.60) scale(.1)" class="xl" text-anchor="middle">Q1</text>
<path d="M112.6 331v2.4" class="axl"/>
<text transform="translate(112.60 339.60) scale(.1)" class="xl" text-anchor="middle">Q4</text>
<text transform="translate(12.40 291.00) rotate(-90) scale(.1)" class="yl" text-anchor="middle"><tspan font-style="italic">Log2</tspan> Expression</text>
<path d="M63.6 255.30V252.1H112.6V255.30" class="br"/>
<text transform="translate(86.90 251.50) scale(.1)" class="pv" text-anchor="middle">&lt;0.0001</text>
<g id="dG"><circle cx="51.6" cy="277.2" r="1.7"/><circle cx="56.2" cy="278.5" r="1.7"/><circle cx="60.8" cy="279.8" r="1.7"/><circle cx="65.4" cy="279.8" r="1.7"/><circle cx="70.0" cy="278.5" r="1.7"/><circle cx="74.6" cy="277.2" r="1.7"/><circle cx="49.1" cy="280.9" r="1.7"/><circle cx="51.5" cy="281.5" r="1.7"/><circle cx="53.8" cy="282.1" r="1.7"/><circle cx="56.2" cy="282.8" r="1.7"/><circle cx="58.6" cy="283.4" r="1.7"/><circle cx="60.9" cy="284.0" r="1.7"/><circle cx="63.3" cy="284.6" r="1.7"/><circle cx="65.7" cy="284.0" r="1.7"/><circle cx="68.0" cy="283.4" r="1.7"/><circle cx="70.4" cy="282.8" r="1.7"/><circle cx="72.8" cy="282.1" r="1.7"/><circle cx="75.1" cy="281.5" r="1.7"/><circle cx="77.5" cy="280.9" r="1.7"/><circle cx="49.5" cy="285.7" r="1.7"/><circle cx="52.9" cy="286.5" r="1.7"/><circle cx="56.4" cy="287.3" r="1.7"/><circle cx="59.8" cy="288.1" r="1.7"/><circle cx="63.3" cy="288.9" r="1.7"/><circle cx="66.8" cy="288.1" r="1.7"/><circle cx="70.2" cy="287.3" r="1.7"/><circle cx="73.7" cy="286.5" r="1.7"/><circle cx="77.1" cy="285.7" r="1.7"/><circle cx="51.8" cy="290.3" r="1.7"/><circle cx="55.1" cy="290.9" r="1.7"/><circle cx="58.4" cy="291.6" r="1.7"/><circle cx="61.7" cy="292.2" r="1.7"/><circle cx="64.9" cy="292.2" r="1.7"/><circle cx="68.2" cy="291.6" r="1.7"/><circle cx="71.5" cy="290.9" r="1.7"/><circle cx="74.8" cy="290.3" r="1.7"/><circle cx="60.7" cy="293.9" r="1.7"/><circle cx="65.3" cy="294.6" r="1.7"/><circle cx="69.8" cy="293.5" r="1.7"/><circle cx="48.7" cy="296.3" r="1.7"/><circle cx="52.8" cy="297.3" r="1.7"/><circle cx="56.9" cy="298.3" r="1.7"/><circle cx="61.0" cy="299.3" r="1.7"/><circle cx="65.2" cy="299.3" r="1.7"/><circle cx="69.3" cy="298.3" r="1.7"/><circle cx="73.4" cy="297.3" r="1.7"/><circle cx="77.5" cy="296.3" r="1.7"/><circle cx="48.7" cy="302.7" r="1.7"/><circle cx="52.8" cy="303.5" r="1.7"/><circle cx="56.9" cy="304.3" r="1.7"/><circle cx="61.0" cy="305.1" r="1.7"/><circle cx="65.2" cy="305.1" r="1.7"/><circle cx="69.3" cy="304.3" r="1.7"/><circle cx="73.4" cy="303.5" r="1.7"/><circle cx="77.5" cy="302.7" r="1.7"/><circle cx="65.3" cy="309.2" r="1.7"/><circle cx="61.2" cy="312.3" r="1.7"/><circle cx="107.7" cy="262.2" r="1.7"/><circle cx="112.5" cy="263.1" r="1.7"/><circle cx="117.0" cy="261.5" r="1.7"/><circle cx="98.4" cy="265.1" r="1.7"/><circle cx="103.4" cy="266.9" r="1.7"/><circle cx="119.3" cy="265.1" r="1.7"/><circle cx="123.8" cy="265.1" r="1.7"/><circle cx="109.9" cy="267.6" r="1.7"/><circle cx="114.7" cy="267.4" r="1.7"/><circle cx="100.6" cy="269.8" r="1.7"/><circle cx="105.6" cy="270.4" r="1.7"/><circle cx="123.8" cy="269.8" r="1.7"/><circle cx="119.3" cy="271.5" r="1.7"/><circle cx="109.9" cy="272.5" r="1.7"/><circle cx="114.7" cy="274.2" r="1.7"/><circle cx="97.9" cy="275.4" r="1.7"/><circle cx="101.5" cy="276.3" r="1.7"/><circle cx="105.1" cy="277.3" r="1.7"/><circle cx="108.7" cy="278.2" r="1.7"/><circle cx="112.3" cy="279.2" r="1.7"/><circle cx="115.9" cy="278.2" r="1.7"/><circle cx="119.5" cy="277.3" r="1.7"/><circle cx="123.1" cy="276.3" r="1.7"/><circle cx="126.7" cy="275.4" r="1.7"/><circle cx="97.5" cy="280.7" r="1.7"/><circle cx="99.8" cy="281.2" r="1.7"/><circle cx="102.1" cy="281.7" r="1.7"/><circle cx="104.3" cy="282.2" r="1.7"/><circle cx="106.6" cy="282.7" r="1.7"/><circle cx="108.9" cy="283.2" r="1.7"/><circle cx="111.2" cy="283.7" r="1.7"/><circle cx="113.4" cy="283.7" r="1.7"/><circle cx="115.7" cy="283.2" r="1.7"/><circle cx="118.0" cy="282.7" r="1.7"/><circle cx="120.3" cy="282.2" r="1.7"/><circle cx="122.5" cy="281.7" r="1.7"/><circle cx="124.8" cy="281.2" r="1.7"/><circle cx="127.1" cy="280.7" r="1.7"/><circle cx="97.8" cy="287.5" r="1.7"/><circle cx="101.9" cy="288.2" r="1.7"/><circle cx="106.1" cy="288.8" r="1.7"/><circle cx="110.2" cy="289.5" r="1.7"/><circle cx="114.4" cy="289.5" r="1.7"/><circle cx="118.5" cy="288.8" r="1.7"/><circle cx="122.7" cy="288.2" r="1.7"/><circle cx="126.8" cy="287.5" r="1.7"/><circle cx="105.6" cy="294.4" r="1.7"/><circle cx="110.2" cy="296.4" r="1.7"/><circle cx="121.5" cy="294.7" r="1.7"/><circle cx="117.0" cy="298.6" r="1.7"/><circle cx="110.2" cy="303.8" r="1.7"/><circle cx="114.7" cy="302.3" r="1.7"/></g>
<mask id="mG" maskUnits="userSpaceOnUse" x="0" y="0" width="550" height="454"><use href="#dG" fill="#fff"/></mask>
<path d="M47.70 291.60H79.50M96.70 280.50H128.50" class="lt" mask="url(#mG)"/>
</g>
<g id="panel-H">
<text transform="translate(208.90 245.50) scale(.1)" class="pl">H</text>
<text transform="translate(293.30 239.40) scale(.1)" class="ti it" text-anchor="middle">CASP8</text>
<path d="M252.90 326.8V294.40H284.70V326.8" class="bar"/>
<path d="M301.40 326.8V282.00H333.20V326.8" class="bar"/>
<path d="M268.8 292V296.8M260.8 292H276.8M260.8 296.8H276.8" class="eb"/>
<path d="M317.3 279.6V284.4M309.3 279.6H325.3M309.3 284.4H325.3" class="eb"/>
<path d="M235.8 249.90V326.8M235.40 326.8H350.4" class="axl"/>
<path d="M233.40 326.80H235.8" class="axl"/>
<text transform="translate(232.20 328.40) scale(.1)" class="tk" text-anchor="end">0</text>
<path d="M233.40 301.30H235.8" class="axl"/>
<text transform="translate(232.20 302.90) scale(.1)" class="tk" text-anchor="end">1</text>
<path d="M233.40 275.80H235.8" class="axl"/>
<text transform="translate(232.20 277.40) scale(.1)" class="tk" text-anchor="end">2</text>
<path d="M233.40 250.30H235.8" class="axl"/>
<text transform="translate(232.20 251.90) scale(.1)" class="tk" text-anchor="end">3</text>
<path d="M268.8 326.8v2.4" class="axl"/>
<text transform="translate(268.80 335.40) scale(.1)" class="xl" text-anchor="middle">Q1</text>
<path d="M317.3 326.8v2.4" class="axl"/>
<text transform="translate(317.30 335.40) scale(.1)" class="xl" text-anchor="middle">Q4</text>
<text transform="translate(216.60 288.00) rotate(-90) scale(.1)" class="yl" text-anchor="middle"><tspan font-style="italic">Log2</tspan> Expression</text>
<path d="M268.8 251.20V248H317.3V251.20" class="br"/>
<text transform="translate(291.85 247.80) scale(.1)" class="pv" text-anchor="middle">&lt;0.0001</text>
<g id="dH"><circle cx="273.5" cy="271.3" r="1.7"/><circle cx="261.9" cy="274.5" r="1.7"/><circle cx="264.1" cy="276.4" r="1.7"/><circle cx="268.9" cy="274.7" r="1.7"/><circle cx="268.9" cy="279.7" r="1.7"/><circle cx="273.5" cy="278.8" r="1.7"/><circle cx="254.4" cy="280.2" r="1.7"/><circle cx="256.6" cy="280.8" r="1.7"/><circle cx="258.8" cy="281.5" r="1.7"/><circle cx="261.0" cy="282.1" r="1.7"/><circle cx="263.2" cy="282.7" r="1.7"/><circle cx="265.4" cy="283.4" r="1.7"/><circle cx="267.6" cy="284.0" r="1.7"/><circle cx="269.8" cy="284.0" r="1.7"/><circle cx="272.0" cy="283.4" r="1.7"/><circle cx="274.2" cy="282.7" r="1.7"/><circle cx="276.4" cy="282.1" r="1.7"/><circle cx="278.6" cy="281.5" r="1.7"/><circle cx="280.8" cy="280.8" r="1.7"/><circle cx="283.0" cy="280.2" r="1.7"/><circle cx="255.0" cy="285.5" r="1.7"/><circle cx="259.5" cy="286.1" r="1.7"/><circle cx="264.1" cy="287.5" r="1.7"/><circle cx="280.3" cy="285.8" r="1.7"/><circle cx="268.9" cy="289.3" r="1.7"/><circle cx="275.7" cy="288.4" r="1.7"/><circle cx="273.5" cy="291.3" r="1.7"/><circle cx="261.9" cy="293.4" r="1.7"/><circle cx="268.9" cy="294.0" r="1.7"/><circle cx="259.5" cy="296.2" r="1.7"/><circle cx="264.1" cy="297.1" r="1.7"/><circle cx="278.0" cy="296.5" r="1.7"/><circle cx="268.9" cy="299.3" r="1.7"/><circle cx="273.5" cy="299.1" r="1.7"/><circle cx="261.9" cy="302.7" r="1.7"/><circle cx="266.6" cy="304.4" r="1.7"/><circle cx="271.2" cy="304.7" r="1.7"/><circle cx="278.0" cy="304.1" r="1.7"/><circle cx="264.4" cy="308.0" r="1.7"/><circle cx="268.9" cy="309.3" r="1.7"/><circle cx="275.7" cy="308.0" r="1.7"/><circle cx="266.6" cy="310.9" r="1.7"/><circle cx="282.5" cy="310.5" r="1.7"/><circle cx="257.4" cy="311.8" r="1.7"/><circle cx="273.5" cy="312.3" r="1.7"/><circle cx="278.0" cy="311.4" r="1.7"/><circle cx="261.9" cy="313.8" r="1.7"/><circle cx="268.9" cy="314.4" r="1.7"/><circle cx="264.4" cy="316.4" r="1.7"/><circle cx="268.9" cy="319.3" r="1.7"/><circle cx="273.5" cy="318.6" r="1.7"/><circle cx="317.7" cy="254.8" r="1.7"/><circle cx="322.5" cy="256.2" r="1.7"/><circle cx="308.5" cy="261.5" r="1.7"/><circle cx="313.1" cy="259.6" r="1.7"/><circle cx="317.7" cy="260.5" r="1.7"/><circle cx="313.1" cy="264.8" r="1.7"/><circle cx="317.7" cy="266.0" r="1.7"/><circle cx="322.5" cy="266.0" r="1.7"/><circle cx="327.0" cy="264.2" r="1.7"/><circle cx="308.5" cy="268.5" r="1.7"/><circle cx="313.1" cy="270.3" r="1.7"/><circle cx="327.0" cy="269.6" r="1.7"/><circle cx="322.5" cy="272.1" r="1.7"/><circle cx="305.7" cy="274.5" r="1.7"/><circle cx="309.1" cy="274.6" r="1.7"/><circle cx="312.6" cy="274.7" r="1.7"/><circle cx="316.0" cy="274.8" r="1.7"/><circle cx="319.4" cy="274.8" r="1.7"/><circle cx="322.8" cy="274.7" r="1.7"/><circle cx="326.3" cy="274.6" r="1.7"/><circle cx="329.7" cy="274.5" r="1.7"/><circle cx="316.1" cy="278.5" r="1.7"/><circle cx="319.3" cy="277.1" r="1.7"/><circle cx="303.4" cy="280.0" r="1.7"/><circle cx="305.8" cy="280.4" r="1.7"/><circle cx="308.2" cy="280.7" r="1.7"/><circle cx="310.6" cy="281.1" r="1.7"/><circle cx="312.9" cy="281.4" r="1.7"/><circle cx="315.3" cy="281.8" r="1.7"/><circle cx="317.7" cy="282.1" r="1.7"/><circle cx="320.1" cy="281.8" r="1.7"/><circle cx="322.5" cy="281.4" r="1.7"/><circle cx="324.8" cy="281.1" r="1.7"/><circle cx="327.2" cy="280.7" r="1.7"/><circle cx="329.6" cy="280.4" r="1.7"/><circle cx="332.0" cy="280.0" r="1.7"/><circle cx="308.5" cy="285.6" r="1.7"/><circle cx="327.0" cy="285.3" r="1.7"/><circle cx="310.9" cy="289.3" r="1.7"/><circle cx="313.4" cy="288.6" r="1.7"/><circle cx="320.0" cy="288.4" r="1.7"/><circle cx="324.7" cy="289.8" r="1.7"/><circle cx="315.5" cy="292.7" r="1.7"/><circle cx="320.0" cy="293.6" r="1.7"/><circle cx="313.1" cy="295.6" r="1.7"/><circle cx="322.5" cy="296.4" r="1.7"/><circle cx="317.7" cy="300.0" r="1.7"/><circle cx="308.5" cy="303.5" r="1.7"/><circle cx="313.1" cy="305.6" r="1.7"/><circle cx="317.7" cy="305.6" r="1.7"/><circle cx="322.5" cy="303.8" r="1.7"/><circle cx="327.0" cy="302.3" r="1.7"/><circle cx="315.5" cy="318.0" r="1.7"/><circle cx="320.0" cy="317.7" r="1.7"/></g>
<mask id="mH" maskUnits="userSpaceOnUse" x="0" y="0" width="550" height="454"><use href="#dH" fill="#fff"/></mask>
<path d="M252.90 294.40H284.70M301.40 282.00H333.20M268.8 292V296.8M260.8 292H276.8M260.8 296.8H276.8M317.3 279.6V284.4M309.3 279.6H325.3M309.3 284.4H325.3" class="lt" mask="url(#mH)"/>
</g>
<g id="panel-I">
<text transform="translate(385.80 245.40) scale(.1)" class="pl">I</text>
<text transform="translate(484.40 239.40) scale(.1)" class="ti it" text-anchor="middle">BAX</text>
<path d="M443.30 326.8V293.30H475.40V326.8" class="bar"/>
<path d="M492.80 326.8V286.40H525.00V326.8" class="bar"/>
<path d="M459.35 292.3V294.3M451.35 292.3H467.35M451.35 294.3H467.35" class="eb"/>
<path d="M508.9 285.2V287.6M500.9 285.2H516.9M500.9 287.6H516.9" class="eb"/>
<path d="M426.4 249.90V326.8M426.00 326.8H542.2" class="axl"/>
<path d="M424.00 326.80H426.4" class="axl"/>
<text transform="translate(422.80 328.40) scale(.1)" class="tk" text-anchor="end">0</text>
<path d="M424.00 307.68H426.4" class="axl"/>
<text transform="translate(422.80 309.28) scale(.1)" class="tk" text-anchor="end">1</text>
<path d="M424.00 288.55H426.4" class="axl"/>
<text transform="translate(422.80 290.15) scale(.1)" class="tk" text-anchor="end">2</text>
<path d="M424.00 269.43H426.4" class="axl"/>
<text transform="translate(422.80 271.03) scale(.1)" class="tk" text-anchor="end">3</text>
<path d="M424.00 250.30H426.4" class="axl"/>
<text transform="translate(422.80 251.90) scale(.1)" class="tk" text-anchor="end">4</text>
<path d="M459.35 326.8v2.4" class="axl"/>
<text transform="translate(459.35 335.40) scale(.1)" class="xl" text-anchor="middle">Q1</text>
<path d="M508.9 326.8v2.4" class="axl"/>
<text transform="translate(508.90 335.40) scale(.1)" class="xl" text-anchor="middle">Q4</text>
<text transform="translate(407.80 288.00) rotate(-90) scale(.1)" class="yl" text-anchor="middle"><tspan font-style="italic">Log2</tspan> Expression</text>
<path d="M459.35 251.20V248H508.9V251.20" class="br"/>
<text transform="translate(485.62 247.80) scale(.1)" class="pv" text-anchor="middle">0.0017</text>
<g id="dI"><circle cx="450.5" cy="278.0" r="1.7"/><circle cx="455.1" cy="281.1" r="1.7"/><circle cx="459.7" cy="281.4" r="1.7"/><circle cx="464.5" cy="278.6" r="1.7"/><circle cx="469.0" cy="277.3" r="1.7"/><circle cx="445.4" cy="282.5" r="1.7"/><circle cx="448.3" cy="283.1" r="1.7"/><circle cx="451.1" cy="283.6" r="1.7"/><circle cx="454.0" cy="284.2" r="1.7"/><circle cx="456.8" cy="284.7" r="1.7"/><circle cx="459.7" cy="285.3" r="1.7"/><circle cx="462.6" cy="284.7" r="1.7"/><circle cx="465.4" cy="284.2" r="1.7"/><circle cx="468.3" cy="283.6" r="1.7"/><circle cx="471.1" cy="283.1" r="1.7"/><circle cx="474.0" cy="282.5" r="1.7"/><circle cx="445.7" cy="286.8" r="1.7"/><circle cx="449.2" cy="287.6" r="1.7"/><circle cx="452.7" cy="288.5" r="1.7"/><circle cx="456.2" cy="289.3" r="1.7"/><circle cx="459.7" cy="290.2" r="1.7"/><circle cx="463.2" cy="289.3" r="1.7"/><circle cx="466.7" cy="288.5" r="1.7"/><circle cx="470.2" cy="287.6" r="1.7"/><circle cx="473.7" cy="286.8" r="1.7"/><circle cx="445.0" cy="291.7" r="1.7"/><circle cx="447.9" cy="292.1" r="1.7"/><circle cx="450.9" cy="292.4" r="1.7"/><circle cx="453.8" cy="292.8" r="1.7"/><circle cx="456.8" cy="293.1" r="1.7"/><circle cx="459.7" cy="293.5" r="1.7"/><circle cx="462.6" cy="293.1" r="1.7"/><circle cx="465.6" cy="292.8" r="1.7"/><circle cx="468.5" cy="292.4" r="1.7"/><circle cx="471.5" cy="292.1" r="1.7"/><circle cx="474.4" cy="291.7" r="1.7"/><circle cx="445.0" cy="295.2" r="1.7"/><circle cx="448.3" cy="295.6" r="1.7"/><circle cx="451.5" cy="296.0" r="1.7"/><circle cx="454.8" cy="296.4" r="1.7"/><circle cx="458.1" cy="296.8" r="1.7"/><circle cx="461.3" cy="296.8" r="1.7"/><circle cx="464.6" cy="296.4" r="1.7"/><circle cx="467.9" cy="296.0" r="1.7"/><circle cx="471.1" cy="295.6" r="1.7"/><circle cx="474.4" cy="295.2" r="1.7"/><circle cx="445.7" cy="297.6" r="1.7"/><circle cx="448.8" cy="298.2" r="1.7"/><circle cx="451.9" cy="298.8" r="1.7"/><circle cx="455.0" cy="299.5" r="1.7"/><circle cx="458.1" cy="300.1" r="1.7"/><circle cx="461.3" cy="300.1" r="1.7"/><circle cx="464.4" cy="299.5" r="1.7"/><circle cx="467.5" cy="298.8" r="1.7"/><circle cx="470.6" cy="298.2" r="1.7"/><circle cx="473.7" cy="297.6" r="1.7"/><circle cx="455.1" cy="302.0" r="1.7"/><circle cx="464.5" cy="303.6" r="1.7"/><circle cx="459.7" cy="305.5" r="1.7"/><circle cx="508.9" cy="264.7" r="1.7"/><circle cx="504.4" cy="267.7" r="1.7"/><circle cx="513.5" cy="268.9" r="1.7"/><circle cx="508.9" cy="270.7" r="1.7"/><circle cx="502.1" cy="273.2" r="1.7"/><circle cx="506.6" cy="275.9" r="1.7"/><circle cx="511.2" cy="276.2" r="1.7"/><circle cx="515.7" cy="275.0" r="1.7"/><circle cx="495.0" cy="277.3" r="1.7"/><circle cx="522.7" cy="278.0" r="1.7"/><circle cx="499.5" cy="280.2" r="1.7"/><circle cx="502.6" cy="280.7" r="1.7"/><circle cx="505.7" cy="281.1" r="1.7"/><circle cx="508.8" cy="281.6" r="1.7"/><circle cx="511.9" cy="281.1" r="1.7"/><circle cx="515.0" cy="280.7" r="1.7"/><circle cx="518.1" cy="280.2" r="1.7"/><circle cx="497.3" cy="282.4" r="1.7"/><circle cx="500.2" cy="283.1" r="1.7"/><circle cx="503.1" cy="283.7" r="1.7"/><circle cx="506.0" cy="284.4" r="1.7"/><circle cx="508.9" cy="285.0" r="1.7"/><circle cx="511.8" cy="284.4" r="1.7"/><circle cx="514.7" cy="283.7" r="1.7"/><circle cx="517.6" cy="283.1" r="1.7"/><circle cx="520.5" cy="282.4" r="1.7"/><circle cx="496.6" cy="289.0" r="1.7"/><circle cx="499.6" cy="289.2" r="1.7"/><circle cx="502.6" cy="289.4" r="1.7"/><circle cx="505.7" cy="289.6" r="1.7"/><circle cx="508.7" cy="289.8" r="1.7"/><circle cx="511.7" cy="289.6" r="1.7"/><circle cx="514.8" cy="289.4" r="1.7"/><circle cx="517.8" cy="289.2" r="1.7"/><circle cx="520.8" cy="289.0" r="1.7"/><circle cx="494.3" cy="292.5" r="1.7"/><circle cx="497.9" cy="293.5" r="1.7"/><circle cx="501.6" cy="294.5" r="1.7"/><circle cx="505.2" cy="295.5" r="1.7"/><circle cx="508.9" cy="296.5" r="1.7"/><circle cx="512.5" cy="295.5" r="1.7"/><circle cx="516.2" cy="294.5" r="1.7"/><circle cx="519.9" cy="293.5" r="1.7"/><circle cx="523.5" cy="292.5" r="1.7"/><circle cx="499.5" cy="298.1" r="1.7"/><circle cx="504.4" cy="299.0" r="1.7"/><circle cx="513.5" cy="299.9" r="1.7"/><circle cx="518.0" cy="298.5" r="1.7"/><circle cx="508.9" cy="302.4" r="1.7"/></g>
<mask id="mI" maskUnits="userSpaceOnUse" x="0" y="0" width="550" height="454"><use href="#dI" fill="#fff"/></mask>
<path d="M443.30 293.30H475.40M492.80 286.40H525.00" class="lt" mask="url(#mI)"/>
</g>
<g id="panel-J">
<text transform="translate(8.80 356.20) scale(.1)" class="pl">J</text>
<text transform="translate(91.70 354.00) scale(.1)" class="ti it" text-anchor="middle">TNFA</text>
<path d="M51.50 440.2V435.30H83.10V440.2" class="bar"/>
<path d="M100.30 440.2V426.20H132.00V440.2" class="bar"/>
<path d="M67.3 434.2V436.4M59.3 434.2H75.3M59.3 436.4H75.3" class="eb"/>
<path d="M116.15 423.8V429M108.15 423.8H124.15M108.15 429H124.15" class="eb"/>
<path d="M34.4 364.20V440.2M34.00 440.2H149.2" class="axl"/>
<path d="M32.00 440.20H34.4" class="axl"/>
<text transform="translate(30.80 441.80) scale(.1)" class="tk" text-anchor="end">0.0</text>
<path d="M32.00 415.00H34.4" class="axl"/>
<text transform="translate(30.80 416.60) scale(.1)" class="tk" text-anchor="end">0.5</text>
<path d="M32.00 389.80H34.4" class="axl"/>
<text transform="translate(30.80 391.40) scale(.1)" class="tk" text-anchor="end">1.0</text>
<path d="M32.00 364.60H34.4" class="axl"/>
<text transform="translate(30.80 366.20) scale(.1)" class="tk" text-anchor="end">1.5</text>
<path d="M67.3 440.2v2.4" class="axl"/>
<text transform="translate(67.30 448.80) scale(.1)" class="xl" text-anchor="middle">Q1</text>
<path d="M116.15 440.2v2.4" class="axl"/>
<text transform="translate(116.15 448.80) scale(.1)" class="xl" text-anchor="middle">Q4</text>
<text transform="translate(12.40 401.20) rotate(-90) scale(.1)" class="yl" text-anchor="middle"><tspan font-style="italic">Log2</tspan> Expression</text>
<path d="M67.3 366.00V362.8H116.15V366.00" class="br"/>
<text transform="translate(92.52 362.00) scale(.1)" class="pv" text-anchor="middle">0.0002</text>
<g id="dJ"><circle cx="67.0" cy="412.5" r="1.7"/><circle cx="62.5" cy="427.6" r="1.7"/><circle cx="71.5" cy="427.6" r="1.7"/><circle cx="64.7" cy="429.8" r="1.7"/><circle cx="67.0" cy="429.2" r="1.7"/><circle cx="69.3" cy="430.4" r="1.7"/><circle cx="55.6" cy="432.4" r="1.7"/><circle cx="59.2" cy="432.6" r="1.7"/><circle cx="62.7" cy="432.7" r="1.7"/><circle cx="66.3" cy="432.9" r="1.7"/><circle cx="69.9" cy="432.9" r="1.7"/><circle cx="73.5" cy="432.7" r="1.7"/><circle cx="77.0" cy="432.6" r="1.7"/><circle cx="80.6" cy="432.4" r="1.7"/><circle cx="52.4" cy="435.3" r="1.7"/><circle cx="54.7" cy="435.3" r="1.7"/><circle cx="57.0" cy="435.4" r="1.7"/><circle cx="59.2" cy="435.4" r="1.7"/><circle cx="61.5" cy="435.5" r="1.7"/><circle cx="63.8" cy="435.5" r="1.7"/><circle cx="66.1" cy="435.6" r="1.7"/><circle cx="68.3" cy="435.6" r="1.7"/><circle cx="70.6" cy="435.5" r="1.7"/><circle cx="72.9" cy="435.5" r="1.7"/><circle cx="75.2" cy="435.4" r="1.7"/><circle cx="77.4" cy="435.4" r="1.7"/><circle cx="79.7" cy="435.3" r="1.7"/><circle cx="82.0" cy="435.3" r="1.7"/><circle cx="52.4" cy="436.5" r="1.7"/><circle cx="54.7" cy="436.9" r="1.7"/><circle cx="57.0" cy="437.2" r="1.7"/><circle cx="59.2" cy="437.6" r="1.7"/><circle cx="61.5" cy="438.0" r="1.7"/><circle cx="63.8" cy="438.3" r="1.7"/><circle cx="66.1" cy="438.7" r="1.7"/><circle cx="68.3" cy="438.7" r="1.7"/><circle cx="70.6" cy="438.3" r="1.7"/><circle cx="72.9" cy="438.0" r="1.7"/><circle cx="75.2" cy="437.6" r="1.7"/><circle cx="77.4" cy="437.2" r="1.7"/><circle cx="79.7" cy="436.9" r="1.7"/><circle cx="82.0" cy="436.5" r="1.7"/><circle cx="116.2" cy="381.3" r="1.7"/><circle cx="116.2" cy="398.5" r="1.7"/><circle cx="118.5" cy="403.3" r="1.7"/><circle cx="111.7" cy="405.5" r="1.7"/><circle cx="113.9" cy="409.8" r="1.7"/><circle cx="118.5" cy="410.4" r="1.7"/><circle cx="113.9" cy="415.8" r="1.7"/><circle cx="118.5" cy="415.6" r="1.7"/><circle cx="102.4" cy="417.6" r="1.7"/><circle cx="107.0" cy="419.0" r="1.7"/><circle cx="111.6" cy="420.5" r="1.7"/><circle cx="116.2" cy="421.9" r="1.7"/><circle cx="120.8" cy="420.5" r="1.7"/><circle cx="125.4" cy="419.0" r="1.7"/><circle cx="130.0" cy="417.6" r="1.7"/><circle cx="101.9" cy="425.3" r="1.7"/><circle cx="105.5" cy="426.4" r="1.7"/><circle cx="109.0" cy="427.6" r="1.7"/><circle cx="112.6" cy="428.7" r="1.7"/><circle cx="116.2" cy="429.8" r="1.7"/><circle cx="119.8" cy="428.7" r="1.7"/><circle cx="123.4" cy="427.6" r="1.7"/><circle cx="126.9" cy="426.4" r="1.7"/><circle cx="130.5" cy="425.3" r="1.7"/><circle cx="101.2" cy="429.8" r="1.7"/><circle cx="103.5" cy="430.3" r="1.7"/><circle cx="105.8" cy="430.8" r="1.7"/><circle cx="108.1" cy="431.3" r="1.7"/><circle cx="110.4" cy="431.8" r="1.7"/><circle cx="112.7" cy="432.3" r="1.7"/><circle cx="115.0" cy="432.8" r="1.7"/><circle cx="117.4" cy="432.8" r="1.7"/><circle cx="119.7" cy="432.3" r="1.7"/><circle cx="122.0" cy="431.8" r="1.7"/><circle cx="124.3" cy="431.3" r="1.7"/><circle cx="126.6" cy="430.8" r="1.7"/><circle cx="128.9" cy="430.3" r="1.7"/><circle cx="131.2" cy="429.8" r="1.7"/><circle cx="101.7" cy="435.1" r="1.7"/><circle cx="105.8" cy="436.3" r="1.7"/><circle cx="109.9" cy="437.4" r="1.7"/><circle cx="114.0" cy="438.6" r="1.7"/><circle cx="118.0" cy="438.6" r="1.7"/><circle cx="122.1" cy="437.4" r="1.7"/><circle cx="126.2" cy="436.3" r="1.7"/><circle cx="130.3" cy="435.1" r="1.7"/></g>
<mask id="mJ" maskUnits="userSpaceOnUse" x="0" y="0" width="550" height="454"><use href="#dJ" fill="#fff"/></mask>
<path d="M51.50 435.30H83.10M100.30 426.20H132.00M116.15 423.8V429M108.15 423.8H124.15M108.15 429H124.15" class="lt" mask="url(#mJ)"/>
</g>
<g id="panel-K">
<text transform="translate(205.00 356.60) scale(.1)" class="pl">K</text>
<text transform="translate(294.40 354.00) scale(.1)" class="ti it" text-anchor="middle">CCL2</text>
<path d="M253.90 440.2V402.60H285.70V440.2" class="bar"/>
<path d="M303.70 440.2V384.50H335.30V440.2" class="bar"/>
<path d="M269.8 401.4V403.8M261.8 401.4H277.8M261.8 403.8H277.8" class="eb"/>
<path d="M319.5 383.5V385.5M311.5 383.5H327.5M311.5 385.5H327.5" class="eb"/>
<path d="M237 364.20V440.2M236.60 440.2H352.5" class="axl"/>
<path d="M234.60 440.20H237" class="axl"/>
<text transform="translate(233.40 441.80) scale(.1)" class="tk" text-anchor="end">0</text>
<path d="M234.60 425.08H237" class="axl"/>
<text transform="translate(233.40 426.68) scale(.1)" class="tk" text-anchor="end">2</text>
<path d="M234.60 409.96H237" class="axl"/>
<text transform="translate(233.40 411.56) scale(.1)" class="tk" text-anchor="end">4</text>
<path d="M234.60 394.84H237" class="axl"/>
<text transform="translate(233.40 396.44) scale(.1)" class="tk" text-anchor="end">6</text>
<path d="M234.60 379.72H237" class="axl"/>
<text transform="translate(233.40 381.32) scale(.1)" class="tk" text-anchor="end">8</text>
<path d="M234.60 364.60H237" class="axl"/>
<text transform="translate(233.40 366.20) scale(.1)" class="tk" text-anchor="end">10</text>
<path d="M269.8 440.2v2.4" class="axl"/>
<text transform="translate(269.80 448.80) scale(.1)" class="xl" text-anchor="middle">Q1</text>
<path d="M319.5 440.2v2.4" class="axl"/>
<text transform="translate(319.50 448.80) scale(.1)" class="xl" text-anchor="middle">Q4</text>
<text transform="translate(216.60 403.60) rotate(-90) scale(.1)" class="yl" text-anchor="middle"><tspan font-style="italic">Log2</tspan> Expression</text>
<path d="M269.8 366.00V362.8H319.5V366.00" class="br"/>
<text transform="translate(294.25 362.00) scale(.1)" class="pv" text-anchor="middle">&lt;0.0001</text>
<g id="dK"><circle cx="270.0" cy="380.7" r="1.7"/><circle cx="270.0" cy="387.4" r="1.7"/><circle cx="255.7" cy="389.2" r="1.7"/><circle cx="259.8" cy="390.4" r="1.7"/><circle cx="263.9" cy="391.5" r="1.7"/><circle cx="268.0" cy="392.7" r="1.7"/><circle cx="272.0" cy="392.7" r="1.7"/><circle cx="276.1" cy="391.5" r="1.7"/><circle cx="280.2" cy="390.4" r="1.7"/><circle cx="284.3" cy="389.2" r="1.7"/><circle cx="256.4" cy="397.1" r="1.7"/><circle cx="263.2" cy="398.0" r="1.7"/><circle cx="267.7" cy="395.5" r="1.7"/><circle cx="270.0" cy="399.5" r="1.7"/><circle cx="274.5" cy="397.4" r="1.7"/><circle cx="279.4" cy="396.2" r="1.7"/><circle cx="286.4" cy="395.3" r="1.7"/><circle cx="255.8" cy="400.0" r="1.7"/><circle cx="258.0" cy="400.5" r="1.7"/><circle cx="260.2" cy="401.1" r="1.7"/><circle cx="262.4" cy="401.6" r="1.7"/><circle cx="264.5" cy="402.2" r="1.7"/><circle cx="266.7" cy="402.7" r="1.7"/><circle cx="268.9" cy="403.2" r="1.7"/><circle cx="271.1" cy="403.2" r="1.7"/><circle cx="273.3" cy="402.7" r="1.7"/><circle cx="275.5" cy="402.2" r="1.7"/><circle cx="277.6" cy="401.6" r="1.7"/><circle cx="279.8" cy="401.1" r="1.7"/><circle cx="282.0" cy="400.5" r="1.7"/><circle cx="284.2" cy="400.0" r="1.7"/><circle cx="255.5" cy="405.4" r="1.7"/><circle cx="258.1" cy="405.9" r="1.7"/><circle cx="260.8" cy="406.4" r="1.7"/><circle cx="263.4" cy="406.9" r="1.7"/><circle cx="266.0" cy="407.4" r="1.7"/><circle cx="268.7" cy="407.9" r="1.7"/><circle cx="271.3" cy="407.9" r="1.7"/><circle cx="274.0" cy="407.4" r="1.7"/><circle cx="276.6" cy="406.9" r="1.7"/><circle cx="279.2" cy="406.4" r="1.7"/><circle cx="281.9" cy="405.9" r="1.7"/><circle cx="284.5" cy="405.4" r="1.7"/><circle cx="263.2" cy="412.0" r="1.7"/><circle cx="276.8" cy="411.6" r="1.7"/><circle cx="267.7" cy="414.4" r="1.7"/><circle cx="272.3" cy="413.6" r="1.7"/><circle cx="274.5" cy="415.9" r="1.7"/><circle cx="265.5" cy="417.5" r="1.7"/><circle cx="270.0" cy="420.0" r="1.7"/><circle cx="270.0" cy="427.1" r="1.7"/><circle cx="319.0" cy="371.1" r="1.7"/><circle cx="309.9" cy="372.9" r="1.7"/><circle cx="328.4" cy="373.8" r="1.7"/><circle cx="314.5" cy="374.9" r="1.7"/><circle cx="316.7" cy="376.0" r="1.7"/><circle cx="319.0" cy="376.3" r="1.7"/><circle cx="321.3" cy="376.3" r="1.7"/><circle cx="323.5" cy="375.4" r="1.7"/><circle cx="307.5" cy="378.2" r="1.7"/><circle cx="310.8" cy="378.9" r="1.7"/><circle cx="314.2" cy="379.7" r="1.7"/><circle cx="317.5" cy="380.4" r="1.7"/><circle cx="320.9" cy="380.4" r="1.7"/><circle cx="324.2" cy="379.7" r="1.7"/><circle cx="327.6" cy="378.9" r="1.7"/><circle cx="330.9" cy="378.2" r="1.7"/><circle cx="305.0" cy="382.6" r="1.7"/><circle cx="307.4" cy="382.9" r="1.7"/><circle cx="309.7" cy="383.1" r="1.7"/><circle cx="312.1" cy="383.4" r="1.7"/><circle cx="314.5" cy="383.7" r="1.7"/><circle cx="316.8" cy="383.9" r="1.7"/><circle cx="319.2" cy="384.2" r="1.7"/><circle cx="321.6" cy="383.9" r="1.7"/><circle cx="323.9" cy="383.7" r="1.7"/><circle cx="326.3" cy="383.4" r="1.7"/><circle cx="328.7" cy="383.1" r="1.7"/><circle cx="331.0" cy="382.9" r="1.7"/><circle cx="333.4" cy="382.6" r="1.7"/><circle cx="304.7" cy="385.4" r="1.7"/><circle cx="307.3" cy="385.7" r="1.7"/><circle cx="310.0" cy="385.9" r="1.7"/><circle cx="312.6" cy="386.2" r="1.7"/><circle cx="315.2" cy="386.5" r="1.7"/><circle cx="317.9" cy="386.8" r="1.7"/><circle cx="320.5" cy="386.8" r="1.7"/><circle cx="323.2" cy="386.5" r="1.7"/><circle cx="325.8" cy="386.2" r="1.7"/><circle cx="328.4" cy="385.9" r="1.7"/><circle cx="331.1" cy="385.7" r="1.7"/><circle cx="333.7" cy="385.4" r="1.7"/><circle cx="304.9" cy="386.7" r="1.7"/><circle cx="307.3" cy="387.2" r="1.7"/><circle cx="309.7" cy="387.8" r="1.7"/><circle cx="312.1" cy="388.3" r="1.7"/><circle cx="314.4" cy="388.8" r="1.7"/><circle cx="316.8" cy="389.4" r="1.7"/><circle cx="319.2" cy="389.9" r="1.7"/><circle cx="321.6" cy="389.4" r="1.7"/><circle cx="324.0" cy="388.8" r="1.7"/><circle cx="326.3" cy="388.3" r="1.7"/><circle cx="328.7" cy="387.8" r="1.7"/><circle cx="331.1" cy="387.2" r="1.7"/><circle cx="333.5" cy="386.7" r="1.7"/><circle cx="307.5" cy="391.3" r="1.7"/><circle cx="312.2" cy="393.8" r="1.7"/><circle cx="316.7" cy="395.1" r="1.7"/><circle cx="321.3" cy="394.0" r="1.7"/><circle cx="325.8" cy="392.9" r="1.7"/><circle cx="330.5" cy="391.1" r="1.7"/></g>
<mask id="mK" maskUnits="userSpaceOnUse" x="0" y="0" width="550" height="454"><use href="#dK" fill="#fff"/></mask>
<path d="M253.90 402.60H285.70M303.70 384.50H335.30" class="lt" mask="url(#mK)"/>
</g>
<g id="panel-L">
<text transform="translate(388.20 356.70) scale(.1)" class="pl">L</text>
<text transform="translate(485.90 354.00) scale(.1)" class="ti it" text-anchor="middle">FN1</text>
<path d="M446.30 440.2V419.00H477.80V440.2" class="bar"/>
<path d="M495.80 440.2V425.50H527.40V440.2" class="bar"/>
<path d="M462.05 411.9V425.8M454.05 411.9H470.05M454.05 425.8H470.05" class="eb"/>
<path d="M511.6 421.6V429.2M503.6 421.6H519.6M503.6 429.2H519.6" class="eb"/>
<path d="M428.8 364.20V440.2M428.40 440.2H544.6" class="axl"/>
<path d="M426.40 440.20H428.8" class="axl"/>
<text transform="translate(425.20 441.80) scale(.1)" class="tk" text-anchor="end">0.0</text>
<path d="M426.40 415.00H428.8" class="axl"/>
<text transform="translate(425.20 416.60) scale(.1)" class="tk" text-anchor="end">0.1</text>
<path d="M426.40 389.80H428.8" class="axl"/>
<text transform="translate(425.20 391.40) scale(.1)" class="tk" text-anchor="end">0.2</text>
<path d="M426.40 364.60H428.8" class="axl"/>
<text transform="translate(425.20 366.20) scale(.1)" class="tk" text-anchor="end">0.3</text>
<path d="M462.05 440.2v2.4" class="axl"/>
<text transform="translate(462.05 448.80) scale(.1)" class="xl" text-anchor="middle">Q1</text>
<path d="M511.6 440.2v2.4" class="axl"/>
<text transform="translate(511.60 448.80) scale(.1)" class="xl" text-anchor="middle">Q4</text>
<text transform="translate(407.80 403.60) rotate(-90) scale(.1)" class="yl" text-anchor="middle"><tspan font-style="italic">Log2</tspan> Expression</text>
<path d="M462.05 366.00V362.8H511.6V366.00" class="br"/>
<text transform="translate(486.23 362.00) scale(.1)" class="pv" text-anchor="middle">0.3686</text>
<g id="dL"><circle cx="461.9" cy="380.4" r="1.7"/><circle cx="511.3" cy="367.7" r="1.7"/><circle cx="461.8" cy="402.2" r="1.7"/><circle cx="461.8" cy="412.7" r="1.7"/><circle cx="461.8" cy="426.4" r="1.7"/><circle cx="460.0" cy="427.8" r="1.7"/><circle cx="466.9" cy="431.3" r="1.7"/><circle cx="463.6" cy="433.6" r="1.7"/><circle cx="459.6" cy="436.4" r="1.7"/><circle cx="511.3" cy="407.3" r="1.7"/><circle cx="502.4" cy="413.3" r="1.7"/><circle cx="518.2" cy="412.7" r="1.7"/><circle cx="506.9" cy="416.7" r="1.7"/><circle cx="513.6" cy="416.7" r="1.7"/><circle cx="509.1" cy="420.0" r="1.7"/><circle cx="514.2" cy="423.3" r="1.7"/><circle cx="508.7" cy="428.2" r="1.7"/><circle cx="501.8" cy="429.1" r="1.7"/><circle cx="520.0" cy="428.7" r="1.7"/><circle cx="504.5" cy="430.9" r="1.7"/><circle cx="511.8" cy="431.3" r="1.7"/><circle cx="517.3" cy="430.9" r="1.7"/><circle cx="496.7" cy="433.6" r="1.7"/><circle cx="500.9" cy="434.5" r="1.7"/><circle cx="506.9" cy="433.6" r="1.7"/><circle cx="513.6" cy="434.2" r="1.7"/><circle cx="519.6" cy="434.5" r="1.7"/><circle cx="525.1" cy="433.6" r="1.7"/><circle cx="505.1" cy="437.8" r="1.7"/><circle cx="510.0" cy="438.5" r="1.7"/><circle cx="513.6" cy="438.2" r="1.7"/></g>
<mask id="mL" maskUnits="userSpaceOnUse" x="0" y="0" width="550" height="454"><use href="#dL" fill="#fff"/></mask>
<path d="M446.30 419.00H477.80M495.80 425.50H527.40M462.05 411.9V425.8M454.05 411.9H470.05M454.05 425.8H470.05M511.6 421.6V429.2M503.6 421.6H519.6M503.6 429.2H519.6" class="lt" mask="url(#mL)"/>
</g>
</svg>
</body></html>
